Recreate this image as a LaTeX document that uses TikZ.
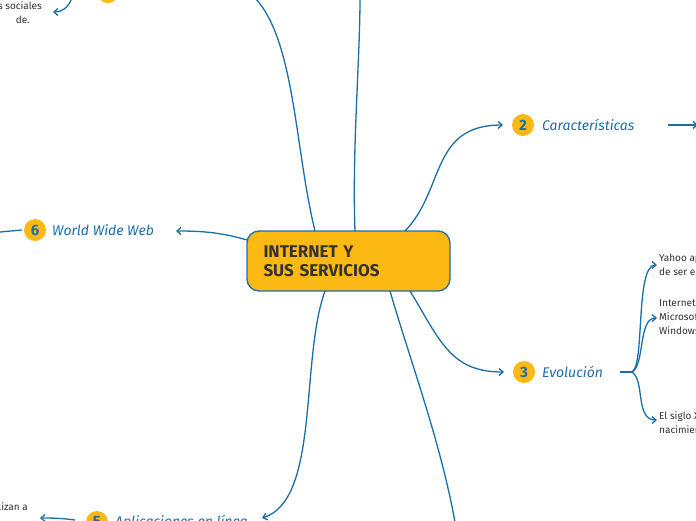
\documentclass[tikz,border=0pt]{standalone}
\usepackage{fontspec}
\setmainfont{Fira Sans}
\usetikzlibrary{arrows.meta}
\definecolor{bl}{HTML}{1B6FA8}
\definecolor{og}{HTML}{FDB913}
\definecolor{tx}{HTML}{333333}
\tikzset{
 con/.style={draw=bl,line width=1.3pt},
 arr/.style={con,-{Straight Barb[length=4pt,width=7pt]}},
 badge/.style={circle,fill=og,minimum size=22pt,inner sep=0pt,font=\bfseries\fontsize{15}{15}\selectfont,text=bl},
 lab/.style={anchor=west,text=bl,font=\itshape\fontsize{14}{14}\selectfont,inner sep=0pt},
 sm/.style={anchor=west,text=tx,font=\fontsize{10}{14}\selectfont,align=left,inner sep=0pt},
 smr/.style={sm,anchor=east,align=left}
}
\begin{document}
\begin{tikzpicture}[x=1pt,y=-1pt]
\clip (0,0) rectangle (696,520);
\useasboundingbox (0,0) rectangle (696,520);
\fill[white] (0,0) rectangle (696,520);
\node[draw=bl,line width=1.3pt,fill=og,rounded corners=12pt,minimum width=203pt,minimum height=60pt,text=tx,font=\bfseries\fontsize{17}{19}\selectfont,align=left,text width=170pt] (c) at (348.5,261) {INTERNET Y\\SUS SERVICIOS};
\coordinate (t1) at (360,-2);
\coordinate (t2) at (255,-2);
\draw[con] (355,231) .. controls (352,150) and (360,60) .. (t1);
\draw[con] (315,231) .. controls (295,150) and (295,40) .. (t2);
\node[badge] (b2) at (523,125) {2};
\node[lab] (l2) at (542,125) {Características};
\draw[arr] (405,231) .. controls (445,190) and (430,125) .. (503,125);
\coordinate (r2) at (698,125);
\draw[arr] (668,125) -- (r2);
\node[badge] (b3) at (524,372) {3};
\node[lab] (l3) at (542,372) {Evolución};
\draw[arr] (410,291) .. controls (440,340) and (450,372) .. (504,372);
\coordinate (e) at (632,372);
\draw[con] (620,372) -- (e);
\draw[arr] (e) .. controls (645,365) and (635,265) .. (657,265);
\draw[arr] (e) .. controls (645,365) and (638,318) .. (657,318);
\draw[arr] (e) .. controls (645,380) and (635,420) .. (657,420);
\node[sm] (y1) at (659,265) {Yahoo ap\\de ser el};
\node[sm] (y2) at (659,317) {Internet\\Microsof\\Windows};
\node[sm] (y3) at (659,423) {El siglo X\\nacimien};
\node[badge] (b6) at (35,230) {6};
\node[lab] (l6) at (52,230) {World Wide Web};
\draw[arr] (247,240) .. controls (220,232) and (200,231) .. (176,231);
\draw[con] (22,230) -- (0,232);
\node[badge] (b5) at (97,522) {5};
\node[lab] (l5) at (115,522) {Aplicaciones en línea};
\draw[arr] (325,291) .. controls (300,360) and (320,500) .. (262,518);
\draw[arr] (75,520) .. controls (60,518) and (50,518) .. (40,518);
\node[smr] at (28,514) {Se utilizan a\\de};
\draw[con] (390,291) .. controls (410,360) and (440,440) .. (455,522);
\node[badge] (b1) at (108,-8) {1};
\draw[arr] (72,-2) .. controls (68,8) and (62,12) .. (53,12);
\node[smr] at (42,13) {Las redes sociales\\\hphantom{Las redes so}de.};
\end{tikzpicture}
\end{document}
